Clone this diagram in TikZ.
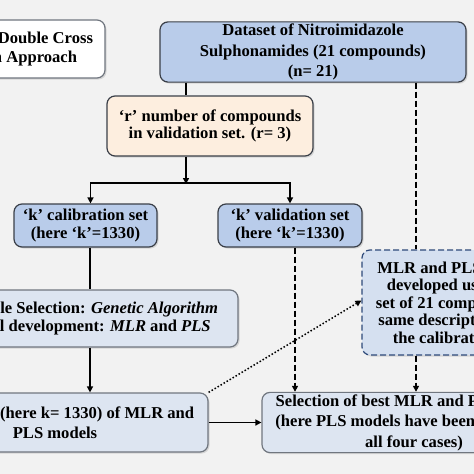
\documentclass[tikz,border=0pt]{standalone}
\usepackage{fontspec}
\setmainfont{Liberation Serif}
\usetikzlibrary{arrows.meta,shadows}

\definecolor{bgcol}{HTML}{F2F2F2}
\definecolor{setblue}{HTML}{B9CCEA}
\definecolor{paleblue}{HTML}{DDE5F1}
\definecolor{dashblue}{HTML}{D5E0F0}
\definecolor{peach}{HTML}{FDEEDF}
\definecolor{darkline}{HTML}{3A3F48}
\definecolor{greyline}{HTML}{70767F}
\definecolor{navyline}{HTML}{2E4A7A}

\begin{document}
\begin{tikzpicture}[x=1pt,y=-1pt,font=\bfseries\fontsize{16.6}{20.5}\selectfont]
\tikzset{box/.style={rectangle, rounded corners=8pt, draw=darkline, line width=1.2pt, align=center,
  inner sep=2pt, drop shadow={opacity=.25, shadow xshift=1.5pt, shadow yshift=-1.5pt}}}
\tikzset{tight/.style={font=\bfseries\fontsize{16.6}{17.5}\selectfont}}
\tikzset{setbox/.style={box, fill=setblue}}
\tikzset{palebox/.style={box, fill=paleblue, draw=greyline}}
\tikzset{link/.style={line width=1.5pt, -{Triangle[length=6pt, width=6pt]}}}
\tikzset{longdash/.style={dash pattern=on 6pt off 3pt}}

% frame
\path[use as bounding box, clip] (0,0) rectangle (474,474);
\fill[bgcol] (0,0) rectangle (474,474);

% Title and data set
\node[box, fill=white, draw=greyline, minimum width=204pt, minimum height=58pt,
 font=\bfseries\fontsize{16.6}{19}\selectfont]
 (title) at (3,49) {A Modified Double Cross\\ Validation Approach};
\node[setbox, minimum width=306pt, minimum height=60pt]
 (data) at (313,52) {Dataset of Nitroimidazole\\ Sulphonamides (21 compounds)\\ (n= 21)};

% Division
\node[box, tight, fill=peach, minimum width=206pt, minimum height=60pt]
 (rsel) at (210,126) {`r' number of compounds\\ in validation set. (r= 3)};
\coordinate (split) at (186,183);

\node[setbox, tight, minimum width=143pt, minimum height=43pt]
 (kcal) at (85.5,225.5) {`k' calibration set\\ (here `k'=1330)};
\node[setbox, tight, minimum width=144pt, minimum height=43pt]
 (kval) at (290,225.5) {`k' validation set\\ (here `k'=1330)};

% Models
\node[palebox, tight, minimum width=306pt, minimum height=57pt]
 (varsel) at (85,318.5) {Variable Selection: \textit{Genetic Algorithm}\\ Model development: \textit{MLR} and \textit{PLS}};
\node[palebox, tight, draw=navyline, fill=dashblue, longdash, minimum width=189pt, minimum height=105pt]
 (whole) at (456.5,302.5) {MLR and PLS models\\ developed using the\\ set of 21 compounds in\\ same descriptors as in\\ the calibration set};

\node[palebox, minimum width=306pt, minimum height=59pt]
 (kmod) at (55,422.5) {Generation (here k= 1330) of MLR and\\ PLS models};
\node[palebox, minimum width=304pt, minimum height=59pt]
 (best) at (414,422.5) {Selection of best MLR and PLS models\\ (here PLS models have been selected in\\ all four cases)};

% Connections
\draw[line width=1.5pt] (data.south -| split) -- (rsel.north -| split);
\draw[link] (rsel.south -| split) -- ([yshift=-1pt]split);
\draw[link] (split) -| ([xshift=5pt]kcal.north);
\draw[link] (split) -| (kval.north);

\draw[line width=1.5pt] ([xshift=4.5pt]kcal.south) -- ([xshift=4.5pt]kcal.south |- varsel.north);
\draw[link] ([xshift=4.5pt]kcal.south |- varsel.south) -- ([xshift=4.5pt]kcal.south |- kmod.north);
\draw[link] (kmod.east |- best.west) -- (best.west);

\draw[link, longdash] ([xshift=5pt]kval.south) -- ([xshift=5pt]kval.south |- best.north);
\draw[line width=1.5pt, longdash] (data.south -| 416,0) -- (whole.north -| 416,0);
\draw[link, longdash] (whole.south -| 416,0) -- (best.north -| 416,0);
\draw[link, dotted] (kmod.north east) -- ([yshift=2pt]whole.west);

\end{tikzpicture}
\end{document}
